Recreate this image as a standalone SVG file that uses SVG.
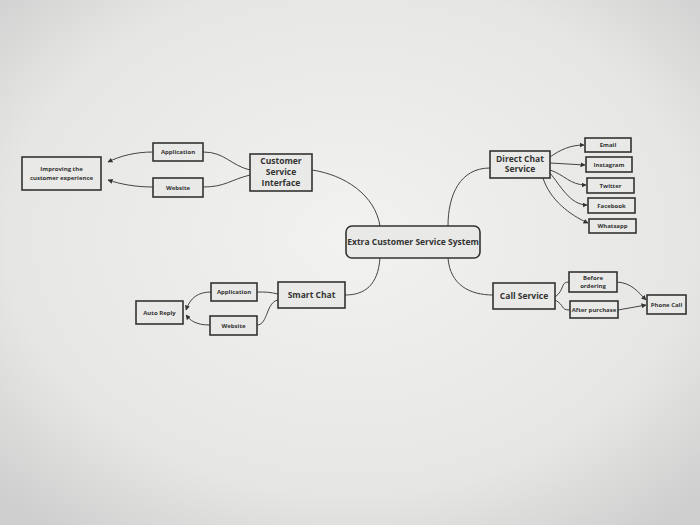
<svg xmlns="http://www.w3.org/2000/svg" width="700" height="525" viewBox="0 0 700 525">
<defs>
<radialGradient id="bg" cx="0.5" cy="0.45" r="0.7">
<stop offset="0" stop-color="#f2f2f0"/><stop offset="0.7" stop-color="#e6e6e4"/><stop offset="1" stop-color="#cfcfcf"/>
</radialGradient>
<marker id="ah" viewBox="0 0 10 10" refX="9" refY="5" markerWidth="5" markerHeight="5" orient="auto"><path d="M0,0L10,5L0,10z" fill="#333"/></marker>
</defs>
<style>
.b{fill:#e9e9e7;stroke:#333;stroke-width:1.6}
.t{font-family:"Open Sans","Liberation Sans",sans-serif;font-weight:bold;fill:#333;text-anchor:middle}
.s{font-size:6px}.m{font-size:8.5px}
.c path{fill:none;stroke:#444;stroke-width:1}
.a{marker-end:url(#ah)}
</style>
<rect width="700" height="525" fill="url(#bg)"/>
<g class="c">
<path d="M312,170 C345,175 375,195 380,226"/>
<path d="M250,170 C230,165 225,152 203,152"/>
<path d="M250,175 C230,180 225,187 203,187"/>
<path class="a" d="M153,152 C135,152 120,156 108,162"/>
<path class="a" d="M153,187 C135,187 120,184 108,180"/>
<path d="M448,226 C448,195 460,168 490,168"/>
<path class="a" d="M550,157 C560,150 570,145 584,145"/>
<path class="a" d="M550,163 L585,165"/>
<path class="a" d="M550,170 C565,175 570,185 586,185"/>
<path class="a" d="M550,173 C560,185 570,205 587,205"/>
<path class="a" d="M543,178 C550,200 570,215 588,223"/>
<path d="M448,258 C450,285 470,295 493,295"/>
<path d="M555,297 C565,290 560,282 569,282"/>
<path d="M555,300 C565,305 560,310 570,310"/>
<path class="a" d="M617,282 C632,283 638,292 646,300"/>
<path class="a" d="M618,310 L646,305"/>
<path d="M380,258 C378,285 365,295 345,295"/>
<path d="M278,294 C270,292 265,292 257,292"/>
<path d="M278,300 C266,302 268,325 257,325"/>
<path class="a" d="M211,292 C198,292 190,298 186,310"/>
<path class="a" d="M210,325 C195,325 190,320 186,315"/>
</g>
<g id="improving"><rect class="b" x="22" y="157" width="79" height="33"/><text class="t s" x="61.5" y="171">Improving the</text><text class="t s" x="61.5" y="180">customer experience</text></g>
<g id="app1"><rect class="b" x="153" y="143" width="50" height="18"/><text class="t s" x="178" y="154">Application</text></g>
<g id="web1"><rect class="b" x="153" y="178" width="50" height="19"/><text class="t s" x="178" y="190">Website</text></g>
<g id="csi"><rect class="b" x="250" y="154" width="62" height="37"/><text class="t m" x="281" y="164">Customer</text><text class="t m" x="281" y="175">Service</text><text class="t m" x="281" y="186">Interface</text></g>
<g id="center"><rect class="b" x="346" y="226" width="134" height="32" rx="6"/><text class="t m" x="413" y="245">Extra Customer Service System</text></g>
<g id="direct"><rect class="b" x="490" y="151" width="60" height="27"/><text class="t m" x="520" y="162">Direct Chat</text><text class="t m" x="520" y="172">Service</text></g>
<g id="email"><rect class="b" x="585" y="138" width="46" height="14"/><text class="t s" x="608" y="147">Email</text></g>
<g id="insta"><rect class="b" x="586" y="157" width="46" height="15"/><text class="t s" x="609" y="166.5">Instagram</text></g>
<g id="twitter"><rect class="b" x="587" y="178" width="47" height="15"/><text class="t s" x="610.5" y="187.5">Twitter</text></g>
<g id="facebook"><rect class="b" x="588" y="198" width="47" height="15"/><text class="t s" x="611.5" y="207.5">Facebook</text></g>
<g id="whatsapp"><rect class="b" x="589" y="219" width="47" height="14"/><text class="t s" x="612.5" y="228">Whatsapp</text></g>
<g id="call"><rect class="b" x="493" y="283" width="62" height="26"/><text class="t m" x="524" y="299">Call Service</text></g>
<g id="before"><rect class="b" x="569" y="272" width="48" height="20"/><text class="t s" x="593" y="280">Before</text><text class="t s" x="593" y="288">ordering</text></g>
<g id="after"><rect class="b" x="570" y="301" width="48" height="17"/><text class="t s" x="594" y="312">After purchase</text></g>
<g id="phone"><rect class="b" x="647" y="295" width="39" height="19"/><text class="t s" x="666.5" y="307">Phone Call</text></g>
<g id="smart"><rect class="b" x="278" y="282" width="67" height="26"/><text class="t m" x="311.5" y="298">Smart Chat</text></g>
<g id="app2"><rect class="b" x="211" y="283" width="46" height="18"/><text class="t s" x="234" y="294">Application</text></g>
<g id="web2"><rect class="b" x="210" y="316" width="47" height="19"/><text class="t s" x="233.5" y="328">Website</text></g>
<g id="auto"><rect class="b" x="136" y="301" width="47" height="23"/><text class="t s" x="159.5" y="314.5">Auto Reply</text></g>
</svg>
